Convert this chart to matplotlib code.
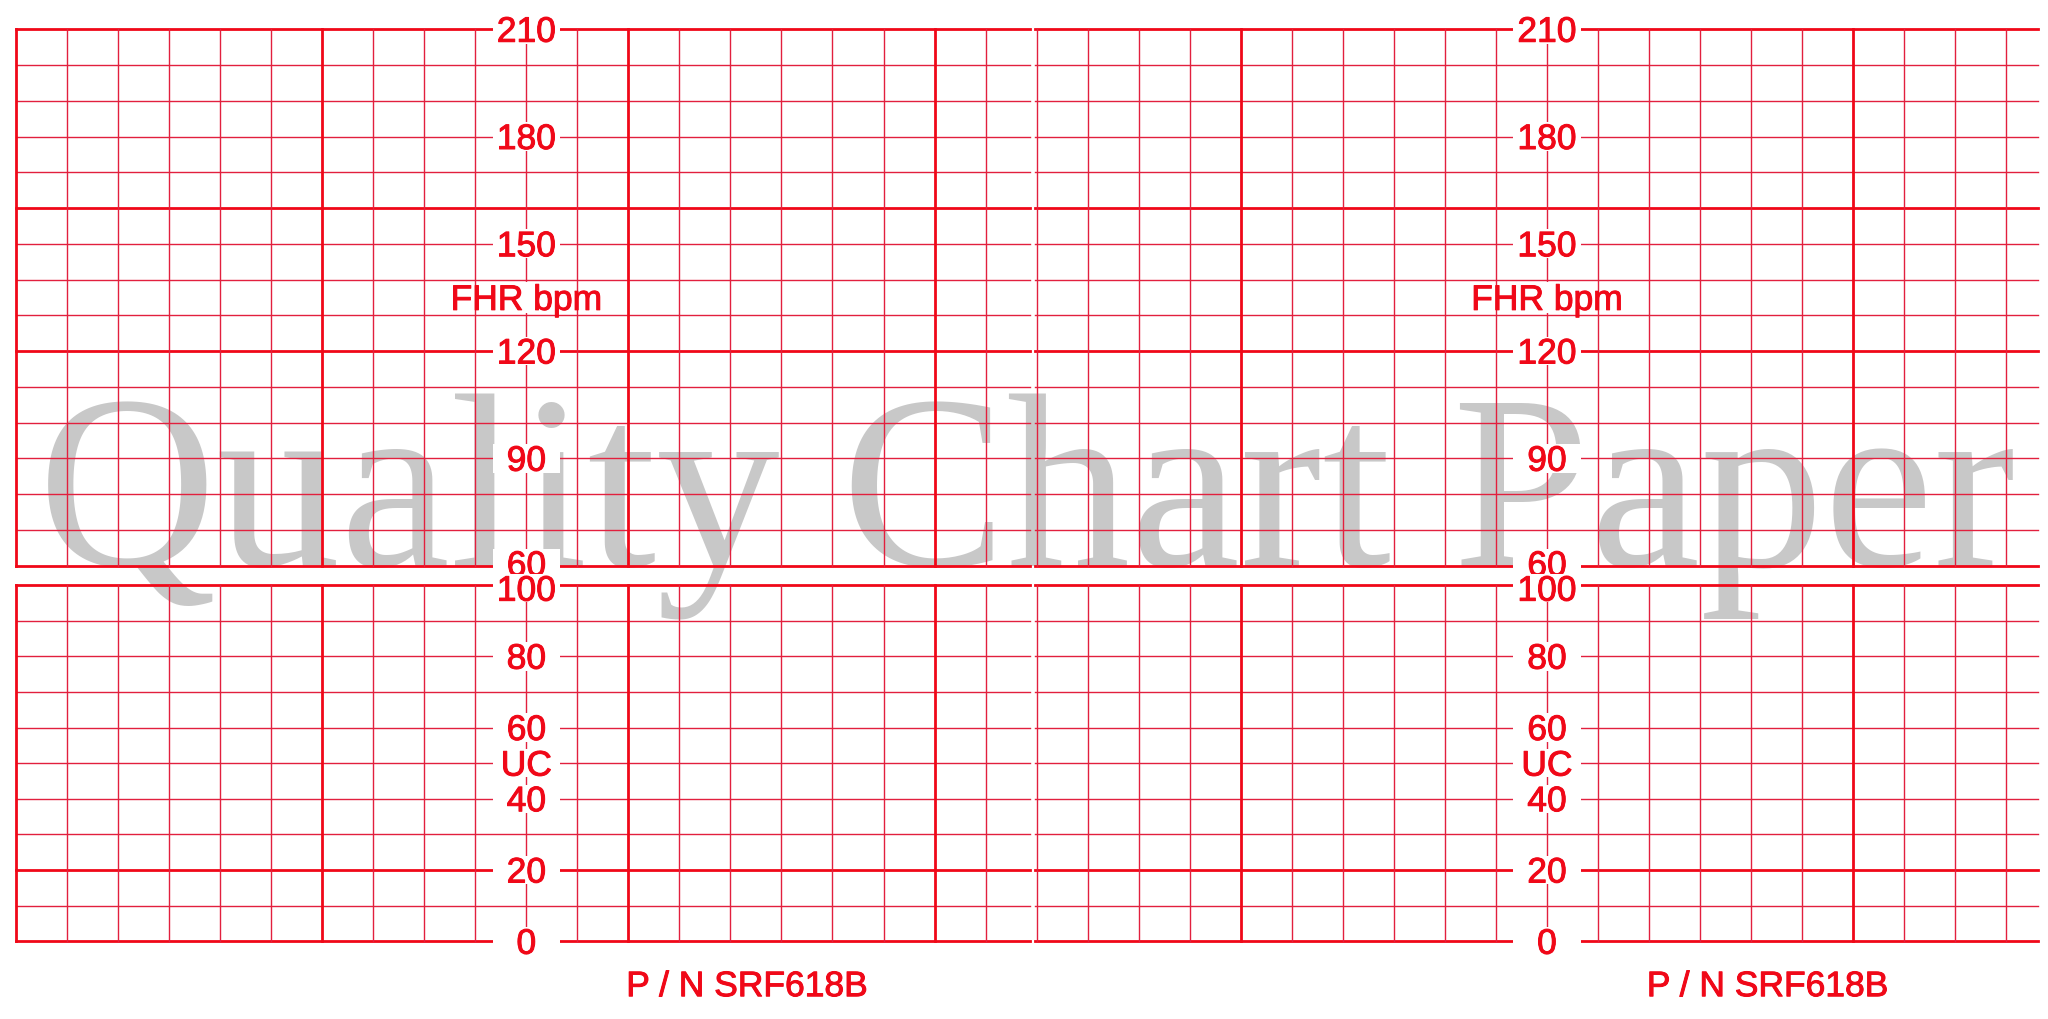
"""
Papier de monitoring foetal (CTG) : deux pages de la bande, grille FHR + UC.
"""

import matplotlib
matplotlib.use("Agg")
import matplotlib.pyplot as plt
import matplotlib.patheffects as pe
from matplotlib.patches import Rectangle

# --- échelles imprimées ---------------------------------------------------
FHR_LINES = [60, 70, 80, 90, 100, 110, 120, 130, 140, 150, 160, 170, 180, 190, 200, 210]
FHR_BOLD = [60, 120, 160, 210]
FHR_LABELS = [210, 180, 150, 120, 90, 60]
FHR_TITLE = "FHR bpm"
FHR_TITLE_Y = 135

UC_LINES = [0, 10, 20, 30, 40, 50, 60, 70, 80, 90, 100]
UC_BOLD = [0, 20, 100]
UC_LABELS = [100, 80, 60, 40, 20, 0]
UC_TITLE = "UC"
UC_TITLE_Y = 50

# décalages des étiquettes qui se touchent (60 FHR / 100 UC), en unités d'échelle
NUDGE = {("fhr", 60): 0.6, ("uc", 100): -0.9}

# --- colonnes (1 unité = une petite division de temps) ----------------------
PAGES = [(0.0, 19.88), (19.97, 39.63)]
PAGE_COLUMNS = [list(range(0, 20)), list(range(20, 40))]
SCALE_COLUMNS = [10, 30]
BOLD_COLUMNS = [0, 6, 12, 18, 24, 36]

PART_NUMBER = "P / N SRF618B"
PART_NUMBER_X = [14.32, 34.32]
WATERMARK = "Quality Chart Paper"

# --- style ------------------------------------------------------------------
RED = "#f00818"
THIN = "#e2203e"
LW_THIN = 1.0
LW_BOLD = 2.0
FONT = "Liberation Sans"
FS = 25.5
INK = [pe.withStroke(linewidth=0.7, foreground=RED)]   # encre un peu grasse

W, H = 2048, 1020
X0, DX = 16.0, 51.03          # px de la colonne 0, px par division
FHR_Y120, FHR_PX = 352.0, 3.575   # px de la ligne 120, px par bpm
UC_Y0, UC_PX = 942.3, 3.563       # px de la ligne 0, px par unité UC


def axes_rect(x_lo, x_hi, y_top_px, y_bot_px):
    left = (X0 + DX * x_lo) / W
    width = DX * (x_hi - x_lo) / W
    bottom = 1 - y_bot_px / H
    height = (y_bot_px - y_top_px) / H
    return [left, bottom, width, height]


def label(ax, col, y, txt):
    ax.add_patch(Rectangle((col - 0.66, y - 4.0), 1.32, 8.0, fc="white",
                           ec="none", zorder=2, clip_on=False))
    ax.text(col, y - 3.5, txt, ha="center", va="baseline", color=RED,
            fontsize=FS, family=FONT, zorder=3, clip_on=False, path_effects=INK)


def draw_section(ax, key, cols, lines, bold, labels, col, title, title_y):
    for v in lines:
        lw, c = (LW_BOLD, RED) if v in bold else (LW_THIN, THIN)
        ax.axhline(v, color=c, lw=lw, clip_on=False, zorder=1)
    for x in cols:
        if x != col and x in BOLD_COLUMNS:
            ax.axvline(x, color=RED, lw=LW_BOLD, clip_on=False, zorder=1)
        else:
            ax.axvline(x, color=THIN, lw=LW_THIN, clip_on=False, zorder=1)

    # étiquettes de l'échelle, sur fond blanc de largeur fixe
    for v in labels:
        label(ax, col, v + NUDGE.get((key, v), 0), str(v))
    if key == "uc":
        label(ax, col, title_y, title)
    else:
        ax.add_patch(Rectangle((col - 0.2, title_y - 4.3), 0.4, 8.6, fc="white",
                               ec="none", zorder=2, clip_on=False))
        ax.text(col, title_y - 3.5, title, ha="center", va="baseline", color=RED,
                fontsize=FS, family=FONT, zorder=3, clip_on=False, path_effects=INK)


fig = plt.figure(figsize=(W / 100, H / 100), dpi=100)
fig.patch.set_facecolor("white")

# filigrane sous la grille
fig.text(0.5012, 1 - 566 / H, WATERMARK, ha="center", va="baseline",
         fontsize=178, family="Liberation Serif", color="#c8c8c8", zorder=-1)

fhr_top = FHR_Y120 - (max(FHR_LINES) - 120) * FHR_PX
fhr_bot = FHR_Y120 + (120 - min(FHR_LINES)) * FHR_PX
uc_top = UC_Y0 - max(UC_LINES) * UC_PX

for (x_lo, x_hi), cols, col, pn_x in zip(PAGES, PAGE_COLUMNS, SCALE_COLUMNS, PART_NUMBER_X):
    ax_fhr = fig.add_axes(axes_rect(x_lo, x_hi, fhr_top, fhr_bot))
    ax_fhr.set_xlim(x_lo, x_hi)
    ax_fhr.set_ylim(min(FHR_LINES), max(FHR_LINES))
    ax_fhr.axis("off")
    draw_section(ax_fhr, "fhr", cols, FHR_LINES, FHR_BOLD, FHR_LABELS, col,
                 FHR_TITLE, FHR_TITLE_Y)

    ax_uc = fig.add_axes(axes_rect(x_lo, x_hi, uc_top, UC_Y0))
    ax_uc.set_xlim(x_lo, x_hi)
    ax_uc.set_ylim(min(UC_LINES), max(UC_LINES))
    ax_uc.axis("off")
    draw_section(ax_uc, "uc", cols, UC_LINES, UC_BOLD, UC_LABELS, col,
                 UC_TITLE, UC_TITLE_Y)

    ax_uc.text(pn_x, -15.4, PART_NUMBER, ha="center", va="baseline", color=RED,
               fontsize=FS, family=FONT, clip_on=False, path_effects=INK)

fig.savefig("out.png", dpi=100, facecolor="white")
plt.close(fig)
